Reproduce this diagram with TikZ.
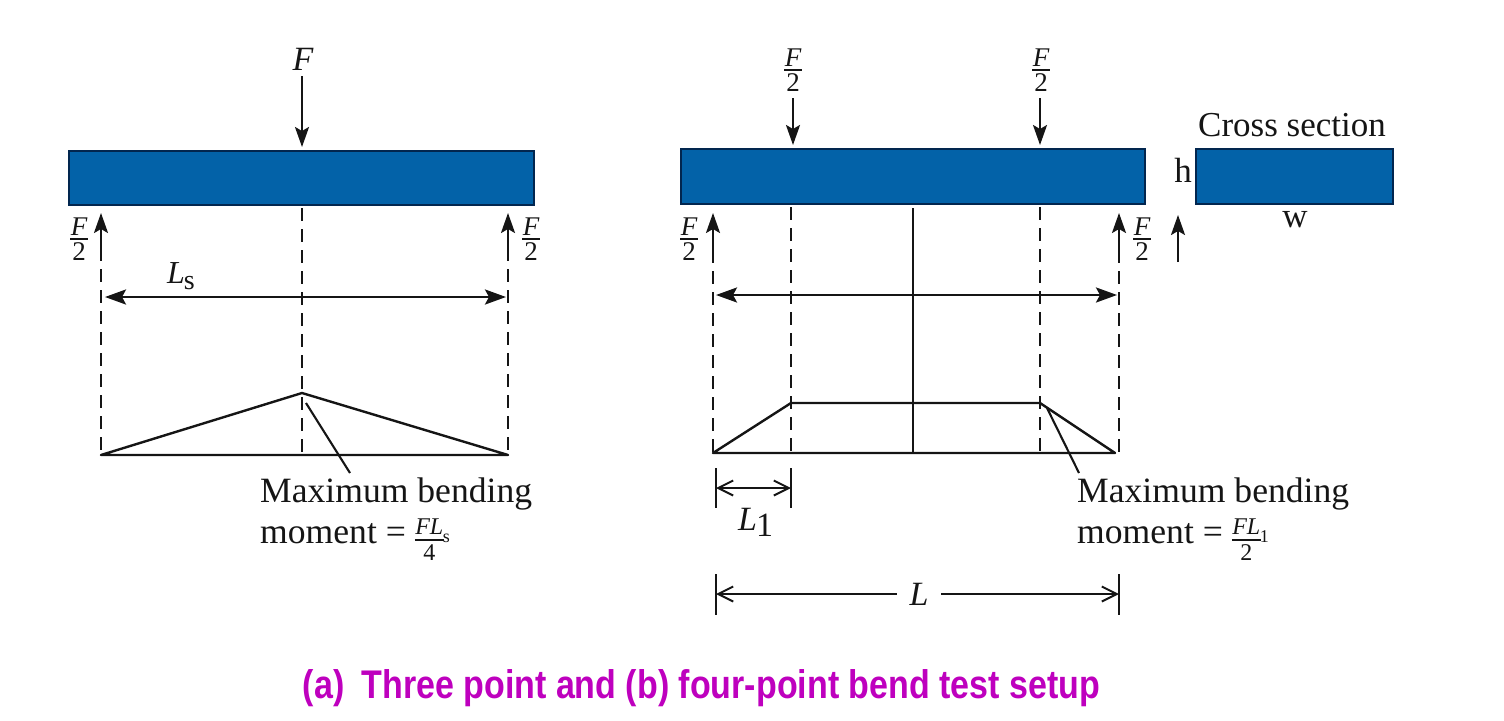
\documentclass[tikz,border=0pt]{standalone}
\usepackage{fontspec}
\setmainfont{Liberation Serif}
\newfontfamily\titlefont{Liberation Sans}
\usetikzlibrary{arrows.meta}
\definecolor{beamblue}{HTML}{0362A8}
\definecolor{beamedge}{HTML}{02264F}
\definecolor{titlemag}{HTML}{BE00BE}
\definecolor{ink}{HTML}{151515}
\newcommand{\frc}[3][3pt]{$\vcenter{\offinterlineskip\halign{\hfil\kern0.5pt##\kern0.5pt\hfil\cr\itshape #2\cr\noalign{\kern#1\hrule height 1.8pt\kern#1}#3\cr}}$}
\tikzset{
  beam/.style={draw=beamedge,line width=2pt,fill=beamblue,inner sep=0pt,outer sep=0pt,anchor=north west},
  force/.style={draw=ink,line width=2.2pt,-{Stealth[length=20pt,width=14pt,inset=4pt]}},
  dimfill/.style={draw=ink,line width=2.6pt,{Stealth[length=21pt,width=15pt,inset=4pt]}-{Stealth[length=21pt,width=15pt,inset=4pt]}},
  dimopen/.style={draw=ink,line width=2pt,{Straight Barb[length=15pt,width=15pt]}-{Straight Barb[length=15pt,width=15pt]}},
  dimend/.style={draw=ink,line width=2pt},
  dashline/.style={draw=ink,line width=2.4pt,dash pattern=on 13pt off 8pt},
  moment/.style={draw=ink,line width=2.4pt,line join=round},
  thin line/.style={draw=ink,line width=2.1pt},
  frac label/.style={font=\fontsize{27}{30}\selectfont,text=ink,inner sep=0pt},
  serif label/.style={font=\fontsize{35}{40}\selectfont,text=ink,inner sep=0pt,anchor=base},
  note label/.style={font=\fontsize{35.6}{41}\selectfont,text=ink,inner sep=0pt,anchor=base west,align=left},
}
\begin{document}
\begin{tikzpicture}[x=1pt,y=-1pt]
\useasboundingbox (0,0) rectangle (1504,720);
% beams
\node[beam,minimum width=465pt,minimum height=54pt] (beamA) at (69,151) {};
\node[beam,minimum width=464pt,minimum height=55pt] (beamB) at (681,149) {};
\node[beam,minimum width=197pt,minimum height=55pt] (beamC) at (1196,149) {};
% --- three point ---
\node[serif label,font=\fontsize{34}{40}\selectfont\itshape] (Fa) at (303,70) {F};
\coordinate (Fa1) at (302,76);
\coordinate (Fa2) at (302,147);
\draw[force] (Fa1) -- (Fa2);
\coordinate (a1t) at (101,213);
\coordinate (a1b) at (101,455);
\coordinate (a2t) at (508,213);
\coordinate (a2b) at (508,455);
\coordinate (a3t) at (302,208);
\coordinate (a3b) at (302,455);
\coordinate (a1m) at (101,248);
\coordinate (a2m) at (508,248);
\draw[dashline] (a1m) -- (a1b);
\draw[dashline] (a2m) -- (a2b);
\draw[dashline] (a3t) -- (a3b);
\draw[force] (a1m) -- (a1t);
\draw[force] (a2m) -- (a2t);
\node[frac label] (fa1) at (79,239) {\frc{F}{2}};
\node[frac label] (fa2) at (531,239) {\frc{F}{2}};
\coordinate (da1) at (105,297);
\coordinate (da2) at (506,297);
\draw[dimfill] (da1) -- (da2);
\node[serif label,anchor=base west,font=\fontsize{32}{40}\selectfont] (Ls) at (167,283) {\textit{L}\kern-1pt\raisebox{-6pt}{\fontsize{28}{30}\selectfont s}};
\coordinate (ma1) at (101,455);
\coordinate (ma2) at (302,393);
\coordinate (ma3) at (508,455);
\draw[moment] (ma1) -- (ma2) -- (ma3) -- cycle;
\coordinate (la1) at (306,403);
\coordinate (la2) at (350,473);
\draw[thin line] (la1) -- (la2);
\node[note label] (notea) at (260,543) {Maximum bending\\moment = {\fontsize{24}{28}\selectfont\raisebox{-3pt}{\frc[4.5pt]{FL}{4}}\kern-1pt\raisebox{1pt}{\fontsize{18}{20}\selectfont s}}};
% --- four point ---
\node[frac label] (fb1) at (793,70) {\frc{F}{2}};
\node[frac label] (fb2) at (1041,70) {\frc{F}{2}};
\coordinate (fb1a) at (793,98);
\coordinate (fb1b) at (793,145);
\coordinate (fb2a) at (1040,98);
\coordinate (fb2b) at (1040,145);
\draw[force] (fb1a) -- (fb1b);
\draw[force] (fb2a) -- (fb2b);
\coordinate (b1t) at (713,213);
\coordinate (b1m) at (713,250);
\coordinate (b1b) at (713,453);
\coordinate (b2t) at (1119,213);
\coordinate (b2m) at (1119,250);
\coordinate (b2b) at (1119,453);
\coordinate (b3t) at (791,207);
\coordinate (b3b) at (791,453);
\coordinate (b4t) at (1040,207);
\coordinate (b4b) at (1040,453);
\coordinate (b5t) at (913,208);
\coordinate (b5b) at (913,453);
\draw[dashline] (b1m) -- (b1b);
\draw[dashline] (b2m) -- (b2b);
\draw[dashline,line width=1.8pt] (b3t) -- (b3b);
\draw[dashline,line width=1.8pt] (b4t) -- (b4b);
\draw[thin line] (b5t) -- (b5b);
\draw[force] (b1m) -- (b1t);
\draw[force] (b2m) -- (b2t);
\node[frac label] (fb3) at (689,239) {\frc{F}{2}};
\node[frac label] (fb4) at (1142,239) {\frc{F}{2}};
\coordinate (db1) at (716,295);
\coordinate (db2) at (1117,295);
\draw[dimfill] (db1) -- (db2);
\coordinate (mb1) at (713,453);
\coordinate (mb2) at (791,403);
\coordinate (mb3) at (1040,403);
\coordinate (mb4) at (1115,453);
\draw[moment] (mb1) -- (mb2) -- (mb3) -- (mb4) -- cycle;
\coordinate (lb1) at (1047,408);
\coordinate (lb2) at (1079,473);
\draw[thin line] (lb1) -- (lb2);
\node[note label] (noteb) at (1077,543) {Maximum bending\\moment = {\fontsize{24}{28}\selectfont\raisebox{-3pt}{\frc[4.5pt]{FL}{2}}\kern-1pt\raisebox{1pt}{\fontsize{18}{20}\selectfont 1}}};
% L1 dimension
\coordinate (t1a) at (716,468);
\coordinate (t1b) at (716,508);
\coordinate (t2a) at (791,468);
\coordinate (t2b) at (791,508);
\coordinate (d1a) at (716,488);
\coordinate (d1b) at (791,488);
\draw[dimend] (t1a) -- (t1b);
\draw[dimend] (t2a) -- (t2b);
\draw[dimopen] (d1a) -- (d1b);
\node[serif label,anchor=base west,font=\fontsize{34}{40}\selectfont] (L1) at (738,530) {\textit{L}\kern-1pt\raisebox{-6pt}{1}};
% L dimension
\coordinate (t3a) at (716,574);
\coordinate (t3b) at (716,615);
\coordinate (t4a) at (1119,574);
\coordinate (t4b) at (1119,615);
\coordinate (d2a) at (716,594);
\coordinate (d2b) at (1119,594);
\draw[dimend] (t3a) -- (t3b);
\draw[dimend] (t4a) -- (t4b);
\node[serif label,font=\fontsize{34}{40}\selectfont\itshape] (Lab) at (919,605) {L};
\coordinate (gap1) at (897,594);
\coordinate (gap2) at (941,594);
\draw[dimend,{Straight Barb[length=15pt,width=15pt]}-] (d2a) -- (gap1);
\draw[dimend,-{Straight Barb[length=15pt,width=15pt]}] (gap2) -- (d2b);
% cross section
\node[serif label] (cs) at (1292,136) {Cross section};
\node[serif label] (h) at (1183,182) {h};
\node[serif label] (w) at (1295,227) {w};
\coordinate (ha) at (1178,262);
\coordinate (hb) at (1178,215);
\draw[force] (ha) -- (hb);
% title
\node[inner sep=0pt,text=titlemag,xscale=0.85,anchor=base] (title) at (701.5,698)
  {\titlefont\bfseries\fontsize{40}{44}\selectfont (a)\hspace{0.5em}Three point and (b) four-point bend test setup};
\end{tikzpicture}
\end{document}
